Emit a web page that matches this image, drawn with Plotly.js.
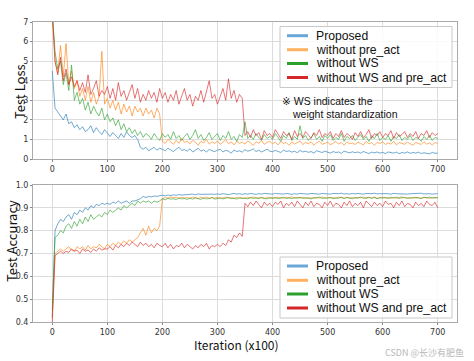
<!DOCTYPE html>
<html><head><meta charset="utf-8">
<script src="https://cdn.plot.ly/plotly-3.0.1.min.js"></script>
<style>html,body{margin:0;padding:0;background:#fff}#chart{width:474px;height:361px}</style>
</head><body><div id="chart"></div>
<script>
const seriesNames = ["Proposed", "without pre_act", "without WS", "without WS and pre_act"];
const lineColors = ["#1f77b4", "#ff7f0e", "#2ca02c", "#d62728"];
const legendColors = ["#6aa6d6", "#ffb060", "#2ca02c", "#d62728"];
const xTicks = [0, 100, 200, 300, 400, 500, 600, 700];
const lossTicks = [0, 1, 2, 3, 4, 5, 6, 7];
const accTicks = [0.4, 0.5, 0.6, 0.7, 0.8, 0.9, 1.0];

// Iterations (x100), sampled every 5
const iterationStep = 5;

const lossProposed = [
4.5,2.6,2.4,2.2,2.0,2.3,1.8,1.9,1.6,1.75,
1.5,1.65,1.4,1.5,1.7,1.35,1.6,1.4,1.25,1.5,
1.3,1.15,1.35,1.2,1.05,1.3,1.1,1.4,1.2,1.1,
1.2,1.0,0.6,0.5,0.6,0.42,0.52,0.6,0.45,0.55,
0.5,0.42,0.55,0.45,0.38,0.5,0.6,0.44,0.48,0.4,
0.52,0.36,0.45,0.55,0.4,0.47,0.35,0.5,0.42,0.38,
0.45,0.5,0.36,0.44,0.4,0.3,0.46,0.38,0.42,0.35,
0.48,0.4,0.44,0.52,0.38,0.45,0.36,0.42,0.5,0.4,
0.37,0.44,0.4,0.33,0.46,0.38,0.42,0.35,0.4,0.32,
0.44,0.36,0.4,0.34,0.38,0.3,0.42,0.36,0.33,0.4,
0.35,0.3,0.38,0.33,0.36,0.29,0.4,0.34,0.31,0.37,
0.32,0.36,0.3,0.38,0.33,0.28,0.35,0.31,0.36,0.3,
0.34,0.28,0.36,0.31,0.3,0.35,0.27,0.33,0.3,0.36,
0.29,0.33,0.3,0.35,0.28,0.32,0.3,0.26,0.34,0.29,
0.3];
const lossNoPreAct = [
7.5,5.0,4.4,5.8,4.2,5.9,3.8,4.5,3.6,4.0,
3.2,3.6,3.0,3.7,2.9,3.4,2.8,3.2,5.5,2.8,
3.1,2.6,3.0,2.5,2.9,2.3,2.8,2.4,2.7,2.2,
2.7,2.4,2.6,2.2,2.6,2.3,2.5,2.1,2.6,2.3,
0.9,0.8,1.0,0.85,0.75,0.95,0.8,1.05,0.85,0.9,
0.78,0.95,0.85,0.7,0.9,0.82,1.0,0.76,0.88,0.8,
0.92,0.75,0.85,0.98,0.78,0.88,0.72,0.9,0.8,0.86,
0.76,0.92,0.82,0.7,0.88,0.8,0.95,0.75,0.85,0.9,
0.78,0.86,0.72,0.9,0.8,0.84,0.7,0.88,0.76,0.82,
0.92,0.74,0.85,0.78,0.88,0.7,0.83,0.9,0.75,0.8,
0.86,0.72,0.82,0.9,0.76,0.84,0.7,0.88,0.78,0.82,
0.74,0.86,0.8,0.72,0.9,0.78,0.84,0.7,0.85,0.79,
0.88,0.74,0.82,0.76,0.9,0.72,0.84,0.8,0.75,0.86,
0.78,0.7,0.85,0.8,0.74,0.88,0.76,0.82,0.72,0.84,
0.8];
const lossNoWS = [
7.5,5.5,4.6,5.0,3.8,4.4,3.5,4.8,3.0,3.4,
2.8,3.1,2.5,2.9,2.3,2.7,2.4,2.2,2.6,2.0,
2.3,1.9,2.1,1.7,2.0,1.5,1.8,1.4,1.6,1.3,
1.5,1.2,1.4,1.1,1.3,1.2,1.0,1.3,1.1,0.95,
1.3,1.1,1.25,1.0,1.4,1.05,1.2,0.95,1.15,1.3,
1.0,1.2,1.5,1.05,1.25,0.95,1.1,1.35,1.0,1.15,
1.3,0.95,1.2,1.05,1.4,1.0,1.15,0.9,1.25,1.1,
1.9,1.05,1.2,1.0,1.3,1.1,0.95,1.25,1.05,1.15,
1.0,1.3,1.1,0.9,1.2,1.05,1.35,0.95,1.15,1.0,
1.7,1.05,1.2,0.95,1.1,1.3,1.0,1.15,0.9,1.2,
1.05,1.25,0.95,1.1,1.0,1.3,0.9,1.15,1.05,1.2,
0.95,1.1,1.25,1.0,1.15,0.9,1.2,1.05,1.3,0.95,
1.1,1.0,1.2,0.9,1.15,1.05,1.25,0.95,1.1,1.0,
1.2,0.95,1.1,1.05,0.9,1.15,1.0,1.2,0.95,1.1,
1.05];
const lossNoWSPreAct = [
7.5,5.0,4.3,5.2,4.0,4.6,3.8,4.2,3.7,4.0,
3.5,3.9,3.4,4.3,3.3,3.6,4.0,3.2,3.5,3.3,
3.7,3.1,3.6,3.0,3.9,3.2,3.5,3.0,3.4,3.8,
3.1,3.6,2.9,3.3,3.0,3.5,3.1,3.4,2.9,3.6,
3.1,3.4,2.9,3.3,3.0,3.5,2.8,3.2,3.6,3.0,
3.3,2.7,3.2,3.0,3.5,2.9,3.4,4.0,3.1,3.3,
2.8,3.2,3.6,3.0,4.1,3.1,3.5,2.9,3.3,3.1,
1.2,1.4,1.1,1.5,1.2,1.35,1.0,1.45,1.2,1.3,
1.1,1.5,1.25,1.05,1.4,1.2,1.3,1.0,1.45,1.15,
1.3,1.1,1.4,1.2,1.05,1.35,1.2,1.5,1.1,1.3,
1.2,1.4,1.05,1.3,1.15,1.45,1.1,1.3,1.2,1.0,
1.35,1.15,1.4,1.1,1.25,1.5,1.05,1.3,1.2,1.4,
1.1,1.3,1.2,1.45,1.05,1.35,1.15,1.25,1.4,1.1,
1.3,1.15,1.4,1.05,1.3,1.2,1.45,1.1,1.35,1.2,
1.3];

const accProposed = [
0.42,0.80,0.83,0.85,0.84,0.86,0.87,0.85,0.88,0.87,
0.89,0.88,0.90,0.89,0.91,0.90,0.915,0.91,0.92,0.915,
0.92,0.915,0.925,0.92,0.93,0.92,0.925,0.93,0.92,0.93,
0.93,0.935,0.94,0.95,0.945,0.95,0.948,0.952,0.95,0.953,
0.955,0.953,0.956,0.954,0.957,0.955,0.958,0.956,0.957,0.959,
0.958,0.96,0.957,0.961,0.959,0.96,0.958,0.962,0.96,0.959,
0.961,0.959,0.962,0.96,0.958,0.961,0.963,0.96,0.962,0.959,
0.962,0.96,0.963,0.961,0.959,0.962,0.96,0.963,0.961,0.962,
0.96,0.963,0.961,0.962,0.96,0.963,0.961,0.959,0.962,0.96,
0.963,0.961,0.962,0.96,0.963,0.961,0.962,0.96,0.963,0.961,
0.962,0.96,0.963,0.961,0.962,0.964,0.961,0.962,0.96,0.963,
0.961,0.963,0.962,0.96,0.963,0.961,0.962,0.964,0.961,0.962,
0.963,0.961,0.962,0.96,0.963,0.962,0.961,0.963,0.962,0.96,
0.962,0.963,0.961,0.962,0.964,0.961,0.963,0.962,0.96,0.962,
0.962];
const accNoPreAct = [
0.42,0.70,0.71,0.72,0.71,0.72,0.73,0.715,0.71,0.73,
0.72,0.73,0.715,0.735,0.72,0.73,0.725,0.74,0.73,0.72,
0.74,0.73,0.745,0.735,0.75,0.74,0.755,0.745,0.76,0.75,
0.76,0.77,0.79,0.81,0.78,0.82,0.79,0.81,0.80,0.82,
0.94,0.945,0.942,0.948,0.944,0.946,0.941,0.947,0.943,0.945,
0.942,0.947,0.944,0.94,0.946,0.943,0.948,0.941,0.945,0.943,
0.946,0.941,0.944,0.947,0.942,0.945,0.94,0.946,0.943,0.944,
0.941,0.946,0.943,0.948,0.942,0.945,0.944,0.94,0.947,0.943,
0.945,0.942,0.947,0.943,0.941,0.946,0.944,0.948,0.942,0.945,
0.943,0.947,0.941,0.945,0.944,0.942,0.946,0.943,0.948,0.941,
0.946,0.943,0.945,0.941,0.947,0.944,0.942,0.946,0.943,0.945,
0.942,0.946,0.944,0.948,0.941,0.945,0.943,0.947,0.942,0.944,
0.947,0.942,0.945,0.943,0.946,0.941,0.944,0.948,0.943,0.945,
0.941,0.946,0.943,0.945,0.942,0.947,0.944,0.941,0.946,0.943,
0.945];
const accNoWS = [
0.45,0.77,0.78,0.80,0.79,0.82,0.83,0.81,0.84,0.82,
0.85,0.83,0.86,0.84,0.87,0.85,0.86,0.87,0.86,0.88,
0.87,0.89,0.88,0.89,0.90,0.89,0.91,0.90,0.91,0.92,
0.91,0.93,0.92,0.93,0.925,0.93,0.92,0.93,0.925,0.93,
0.94,0.935,0.942,0.938,0.94,0.936,0.943,0.939,0.941,0.937,
0.942,0.938,0.944,0.94,0.937,0.943,0.939,0.941,0.945,0.938,
0.941,0.944,0.939,0.942,0.946,0.94,0.943,0.938,0.944,0.941,
0.943,0.939,0.945,0.941,0.944,0.94,0.946,0.942,0.939,0.944,
0.941,0.945,0.94,0.943,0.947,0.941,0.944,0.94,0.945,0.942,
0.946,0.941,0.944,0.942,0.939,0.945,0.943,0.947,0.941,0.944,
0.942,0.946,0.94,0.944,0.942,0.947,0.941,0.945,0.943,0.94,
0.945,0.942,0.947,0.941,0.944,0.946,0.942,0.945,0.94,0.944,
0.943,0.946,0.941,0.945,0.943,0.947,0.942,0.944,0.946,0.941,
0.945,0.942,0.946,0.943,0.941,0.945,0.944,0.947,0.942,0.945,
0.944];
const accNoWSPreAct = [
0.40,0.69,0.70,0.71,0.70,0.71,0.705,0.72,0.71,0.715,
0.70,0.72,0.71,0.715,0.705,0.72,0.71,0.725,0.715,0.72,
0.72,0.73,0.715,0.735,0.725,0.74,0.73,0.745,0.735,0.75,
0.74,0.73,0.75,0.735,0.745,0.73,0.74,0.725,0.745,0.735,
0.73,0.745,0.725,0.74,0.72,0.735,0.73,0.745,0.725,0.74,
0.73,0.72,0.735,0.725,0.74,0.73,0.745,0.72,0.735,0.73,
0.74,0.73,0.745,0.735,0.76,0.75,0.78,0.77,0.79,0.775,
0.92,0.905,0.925,0.91,0.93,0.915,0.9,0.925,0.91,0.92,
0.905,0.925,0.915,0.93,0.9,0.92,0.91,0.925,0.905,0.93,
0.915,0.9,0.925,0.91,0.93,0.905,0.92,0.915,0.9,0.925,
0.91,0.93,0.905,0.92,0.915,0.9,0.925,0.91,0.93,0.905,
0.92,0.91,0.925,0.9,0.93,0.915,0.905,0.925,0.91,0.92,
0.905,0.93,0.915,0.92,0.9,0.925,0.91,0.93,0.905,0.92,
0.915,0.9,0.925,0.91,0.92,0.905,0.93,0.915,0.91,0.925,
0.9];

const iterations = lossProposed.map((_, i) => i * iterationStep);
const lossSeries = [lossProposed, lossNoPreAct, lossNoWS, lossNoWSPreAct];
const accSeries = [accProposed, accNoPreAct, accNoWS, accNoWSPreAct];

const traces = [];
lossSeries.forEach((ys, k) => traces.push({
  x: iterations, y: ys, xaxis: 'x', yaxis: 'y', type: 'scatter', mode: 'lines', name: seriesNames[k],
  line: {color: lineColors[k], width: 0.8}, opacity: 0.8, showlegend: false, hoverinfo: 'skip'
}));
accSeries.forEach((ys, k) => traces.push({
  x: iterations, y: ys, xaxis: 'x2', yaxis: 'y2', type: 'scatter', mode: 'lines', name: seriesNames[k],
  line: {color: lineColors[k], width: 0.8}, opacity: 0.8, showlegend: false, hoverinfo: 'skip'
}));

const W = 474, H = 361;
const px = v => v / W, py = v => 1 - v / H;
const tickFont = {family: 'DejaVu Sans, sans-serif', size: 8, color: '#333'};
const axBase = {
  showline: true, mirror: true, linecolor: '#aaa', linewidth: 1,
  showgrid: true, gridcolor: '#dcdcdc', gridwidth: 1, zeroline: false,
  ticks: 'outside', ticklen: 2, tickcolor: '#888', tickfont: tickFont, automargin: false
};
const legFont = {family: 'Liberation Sans, Arial, sans-serif', size: 12.2, color: '#111'};
const titleFont = {family: 'Noto Sans CJK KR, Noto Sans, sans-serif', size: 13, color: '#111'};
const noteFont = {family: 'Liberation Sans, DejaVu Sans, sans-serif', size: 10.5, color: '#111'};

// Legend boxes drawn as shapes + text (compact matplotlib-style legend)
const shapes = [];
const annotations = [];
function addLegend(top, rowY) {
  shapes.push({type: 'rect', xref: 'paper', yref: 'paper', x0: px(280), x1: px(452), y0: py(top), y1: py(top + 61),
    line: {color: '#c8c8c8', width: 1}, fillcolor: 'rgba(255,255,255,0.85)', layer: 'above'});
  seriesNames.forEach((nm, k) => {
    const yy = rowY[k];
    shapes.push({type: 'line', xref: 'paper', yref: 'paper', x0: px(287), x1: px(308), y0: py(yy), y1: py(yy),
      line: {color: legendColors[k], width: 3}, layer: 'above'});
    annotations.push({text: nm, xref: 'paper', yref: 'paper', x: px(315), y: py(yy), xanchor: 'left', yanchor: 'middle',
      showarrow: false, borderpad: 0, font: legFont});
  });
}
addLegend(26.5, [35.7, 49.7, 63.5, 77.5]);
addLegend(257, [266, 280.3, 294, 308]);

annotations.push(
  {text: 'Test Loss', xref: 'paper', yref: 'paper', x: px(19), y: py(92), xanchor: 'center', yanchor: 'middle',
   textangle: -90, showarrow: false, font: titleFont},
  {text: 'Test Accuracy', xref: 'paper', yref: 'paper', x: px(12), y: py(241), xanchor: 'center', yanchor: 'middle',
   textangle: -90, showarrow: false, font: titleFont},
  {text: 'Iteration (x100)', xref: 'paper', yref: 'paper', x: px(236), y: py(344), xanchor: 'center', yanchor: 'middle',
   showarrow: false, font: {family: 'Noto Sans CJK KR, Noto Sans, sans-serif', size: 12, color: '#111'}},
  {text: '※ WS indicates the', xref: 'paper', yref: 'paper', x: px(281), y: py(101.5), xanchor: 'left', yanchor: 'middle',
   showarrow: false, borderpad: 0, font: noteFont},
  {text: 'weight standardization', xref: 'paper', yref: 'paper', x: px(291), y: py(114), xanchor: 'left', yanchor: 'middle',
   showarrow: false, borderpad: 0, font: noteFont},
  {text: 'CSDN @长沙有肥鱼', xref: 'paper', yref: 'paper', x: px(466), y: py(352), xanchor: 'right', yanchor: 'middle',
   showarrow: false, font: {family: 'Noto Sans CJK SC, sans-serif', size: 9, color: '#b8b8b8'}}
);

const layout = {
  width: W, height: H, margin: {l: 0, r: 0, t: 0, b: 0},
  paper_bgcolor: '#fff', plot_bgcolor: '#fff', showlegend: false,
  xaxis: Object.assign({}, axBase, {domain: [px(33), px(457)], range: [-35, 735], tickvals: xTicks, anchor: 'y'}),
  yaxis: Object.assign({}, axBase, {domain: [py(159), py(22)], range: [0, 7], tickvals: lossTicks, anchor: 'x'}),
  xaxis2: Object.assign({}, axBase, {domain: [px(33), px(457)], range: [-35, 735], tickvals: xTicks, anchor: 'y2'}),
  yaxis2: Object.assign({}, axBase, {domain: [py(322), py(185)], range: [0.4, 1.0], tickvals: accTicks, tickformat: '.1f', anchor: 'x2'}),
  shapes: shapes,
  annotations: annotations
};

Plotly.newPlot('chart', traces, layout, {staticPlot: true, displayModeBar: false});
</script></body></html>
